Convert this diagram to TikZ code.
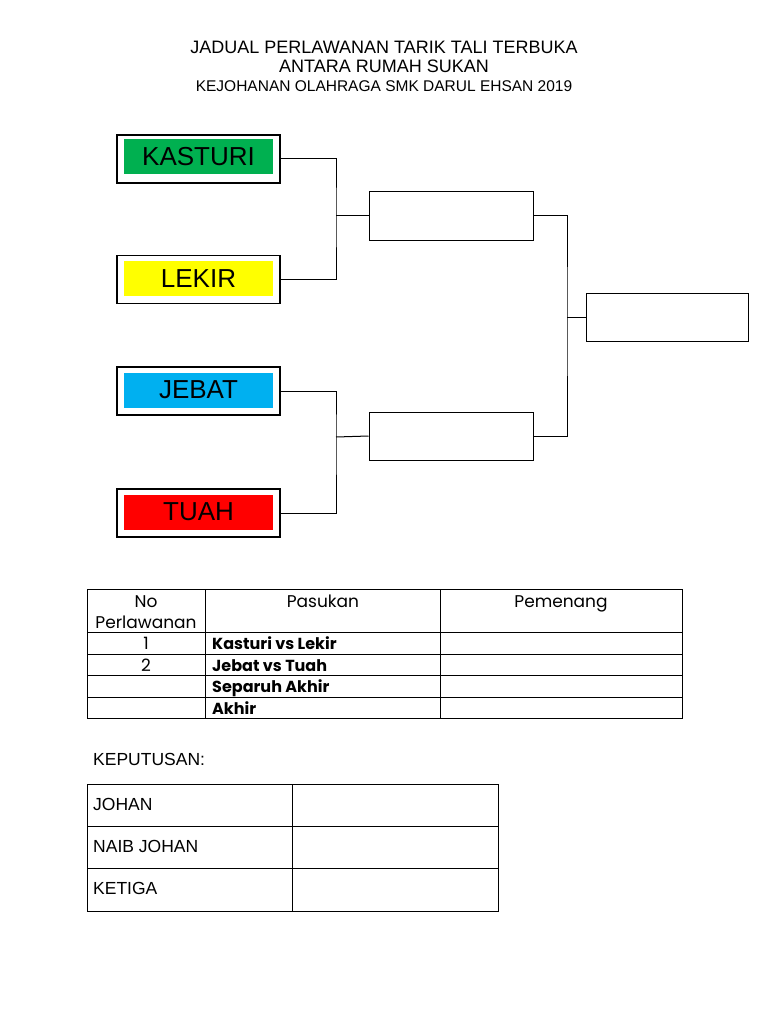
\documentclass[tikz,border=0pt]{standalone}
\usepackage{fontspec}
\setmainfont{Liberation Sans}
\newfontfamily\gothic{Poppins}
\usetikzlibrary{calc}
\definecolor{kgreen}{RGB}{0,176,80}
\definecolor{kyellow}{RGB}{255,255,0}
\definecolor{kblue}{RGB}{0,176,240}
\definecolor{kred}{RGB}{255,0,0}
\begin{document}
\begin{tikzpicture}[x=1pt,y=-1pt,
  teambox/.style={draw,line width=1.3pt,minimum width=163pt,minimum height=48pt,inner sep=0pt},
  teamfill/.style={minimum width=149pt,minimum height=35pt,inner sep=0pt,font=\fontsize{26}{28}\selectfont},
  slot/.style={draw,line width=1pt,minimum width=164pt,minimum height=48pt,inner sep=0pt},
  wire/.style={line width=1pt},
  grid/.style={line width=0.9pt},
  ttl/.style={inner sep=0pt},
  cell/.style={inner sep=0pt,anchor=base,font=\gothic\fontsize{17}{19}\selectfont},
  cellb/.style={inner sep=0pt,anchor=base west,font=\gothic\bfseries\fontsize{16}{18}\selectfont},
  lbl/.style={inner sep=0pt,anchor=west,font=\fontsize{17.5}{19}\selectfont}]
\useasboundingbox[fill=white] (0,0) rectangle (768,1024);

% titles
\node[ttl,font=\fontsize{18}{20}\selectfont] (t1) at (384,47) {JADUAL PERLAWANAN TARIK TALI TERBUKA};
\node[ttl,font=\fontsize{18}{20}\selectfont] (t2) at (384,66) {ANTARA RUMAH SUKAN};
\node[ttl,font=\fontsize{15.5}{17}\selectfont] (t3) at (384,86) {KEJOHANAN OLAHRAGA SMK DARUL EHSAN 2019};

% team boxes
\node[teambox] (kasturi) at (198.5,159) {};
\node[teamfill,fill=kgreen] (kasturiT) at (198.5,157) {KASTURI};
\node[teambox] (lekir) at (198.5,279.5) {};
\node[teamfill,fill=kyellow] (lekirT) at (198.5,278.5) {LEKIR};
\node[teambox] (jebat) at (198.5,391) {};
\node[teamfill,fill=kblue] (jebatT) at (198.5,390) {JEBAT};
\node[teambox] (tuah) at (198.5,513) {};
\node[teamfill,fill=kred] (tuahT) at (198.5,512) {TUAH};

% later rounds
\node[slot] (semi1) at (451,216) {};
\node[slot] (semi2) at (451,436) {};
\node[slot,minimum width=162pt] (final) at (667,317) {};

\coordinate (j1) at (336,216);
\coordinate (j2) at (336,437);
\coordinate (j3) at (567,317);

\draw[wire] (kasturi.east) -| (j1) |- (lekir.east);
\draw[wire] (j1) -- (semi1.west);
\draw[wire] (jebat.east) -| (j2) |- (tuah.east);
\draw[wire] (j2) -- (semi2.west);
\draw[wire] (semi1.east) -| (j3) |- (semi2.east);
\draw[wire] (j3) -- (final.west);

% match table
\draw[grid] (87,589) rectangle (682,718);
\draw[grid] (205,589) -- (205,718);
\draw[grid] (440,589) -- (440,718);
\foreach \yy in {632,654,675,697} \draw[grid] (87,\yy) -- (682,\yy);

\node[cell] (hno) at (146,607) {No};
\node[cell] (hper) at (146,628) {Perlawanan};
\node[cell] (hpas) at (323,607) {Pasukan};
\node[cell] (hpem) at (561,607) {Pemenang};
\node[cell] (n1) at (146,649) {1};
\node[cell] (n2) at (146,671) {2};
\node[cellb] (m1) at (212,649) {Kasturi vs Lekir};
\node[cellb] (m2) at (212,671) {Jebat vs Tuah};
\node[cellb] (m3) at (212,692) {Separuh Akhir};
\node[cellb] (m4) at (212,714) {Akhir};

% results
\node[lbl] (kep) at (93,759) {KEPUTUSAN:};
\draw[grid] (87,784) rectangle (498,911);
\draw[grid] (292,784) -- (292,911);
\draw[grid] (87,826) -- (498,826);
\draw[grid] (87,868) -- (498,868);
\node[lbl] (johan) at (93,804) {JOHAN};
\node[lbl] (naib) at (93,846) {NAIB JOHAN};
\node[lbl] (ketiga) at (93,888) {KETIGA};
\end{tikzpicture}
\end{document}
